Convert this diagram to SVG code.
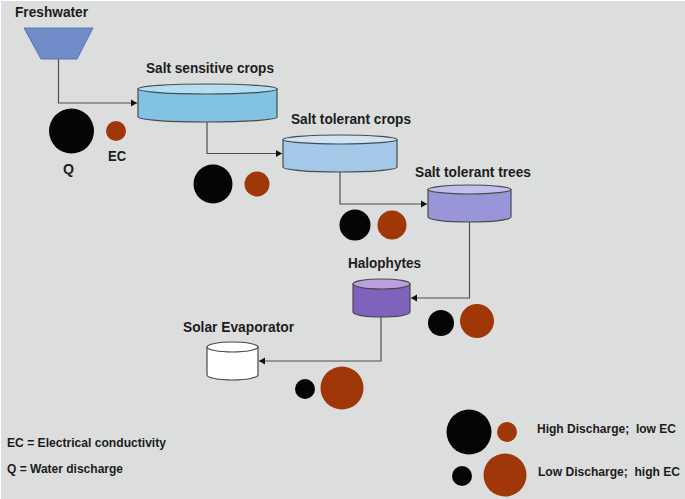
<svg xmlns="http://www.w3.org/2000/svg" width="685" height="499" viewBox="0 0 685 499">
<style>
text{font-family:"Liberation Sans",Arial,sans-serif;font-size:15.5px;font-weight:bold;fill:#1c1c1c;white-space:pre}
.s{font-size:13.5px}
.t{font-size:12.3px}
.c{stroke:#4a4a4a;stroke-width:1.2}
.k{fill:#050505}.r{fill:#a03708}
.l{fill:none;stroke:#4f4f4f;stroke-width:1.2;marker-end:url(#a)}
</style>
<defs><marker id="a" markerUnits="userSpaceOnUse" markerWidth="7" markerHeight="8" refX="6" refY="4" orient="auto"><path d="M0 0.5L6 4L0 7.5Z" fill="#111"/></marker></defs>
<rect width="685" height="499" fill="#fff"/>
<rect x="1" y="1" width="684" height="498" fill="#dcdddd"/>
<g id="connectors">
<path class="l" d="M58.500 59V103H137"/>
<path class="l" d="M207 122V153.500H282"/>
<path class="l" d="M340 172V204H427"/>
<path class="l" d="M469.500 222V298H411"/>
<path class="l" d="M381 317V361H259"/>
</g>
<g id="freshwater"><path d="M24 28H93L77 59H41Z" fill="#6f8cc8" stroke="#5a76b0"/><text x="15" y="17" textLength="73" lengthAdjust="spacingAndGlyphs">Freshwater</text></g>
<g id="salt-sensitive-crops"><path class="c" d="M138 89V117A69.500 5 0 0 0 277 117V89Z" fill="#82c2e2"/><ellipse class="c" cx="207.500" cy="89" rx="69.500" ry="5" fill="#b4dff2"/><text x="146" y="73" textLength="128" lengthAdjust="spacingAndGlyphs">Salt sensitive crops</text></g>
<g id="salt-tolerant-crops"><path class="c" d="M283 139.500V167A57 5 0 0 0 397 167V139.500Z" fill="#a3c8e8"/><ellipse class="c" cx="340" cy="139.500" rx="57" ry="4.500" fill="#cfe3f5"/><text x="291" y="124" textLength="120" lengthAdjust="spacingAndGlyphs">Salt tolerant crops</text></g>
<g id="salt-tolerant-trees"><path class="c" d="M428 189.500V217A41.500 5 0 0 0 511 217V189.500Z" fill="#9896d8"/><ellipse class="c" cx="469.500" cy="189.500" rx="41.500" ry="4.500" fill="#c2bfec"/><text x="415" y="177" textLength="116" lengthAdjust="spacingAndGlyphs">Salt tolerant trees</text></g>
<g id="halophytes"><path class="c" d="M353 284V312A28.500 5 0 0 0 410 312V284Z" fill="#7e62bc"/><ellipse class="c" cx="381.500" cy="284" rx="28.500" ry="5" fill="#b99fdf"/><text x="348" y="268" textLength="73" lengthAdjust="spacingAndGlyphs">Halophytes</text></g>
<g id="solar-evaporator"><path class="c" d="M207 347V375A25.500 5 0 0 0 258 375V347Z" fill="#fff"/><ellipse class="c" cx="232.500" cy="347" rx="25.500" ry="5" fill="#fff"/><text x="183" y="332" textLength="111" lengthAdjust="spacingAndGlyphs">Solar Evaporator</text></g>
<g id="markers">
<circle class="k" cx="71.500" cy="131" r="22.500"/><circle class="r" cx="116" cy="131" r="10"/>
<text x="63" y="174" textLength="11" lengthAdjust="spacingAndGlyphs">Q</text><text x="108" y="161" textLength="18" lengthAdjust="spacingAndGlyphs">EC</text>
<circle class="k" cx="213" cy="184" r="19.500"/><circle class="r" cx="257" cy="184" r="12.500"/>
<circle class="k" cx="355" cy="225" r="15.500"/><circle class="r" cx="392" cy="225" r="14.500"/>
<circle class="k" cx="441" cy="323" r="13"/><circle class="r" cx="477" cy="321" r="17"/>
<circle class="k" cx="305" cy="389" r="10"/><circle class="r" cx="342" cy="388" r="21.500"/>
</g>
<g id="legend">
<text class="s" x="7" y="447" textLength="159" lengthAdjust="spacingAndGlyphs">EC = Electrical conductivity</text>
<text class="s" x="7" y="473" textLength="116" lengthAdjust="spacingAndGlyphs">Q = Water discharge</text>
<circle class="k" cx="469" cy="432" r="22.500"/><circle class="r" cx="507" cy="432" r="10"/>
<circle class="k" cx="462" cy="476" r="10"/><circle class="r" cx="505" cy="475" r="21.500"/>
<text class="t" x="537" y="433" textLength="139" lengthAdjust="spacingAndGlyphs">High Discharge;  low EC</text>
<text class="t" x="538" y="476" textLength="142" lengthAdjust="spacingAndGlyphs">Low Discharge;  high EC</text>
</g>
</svg>
